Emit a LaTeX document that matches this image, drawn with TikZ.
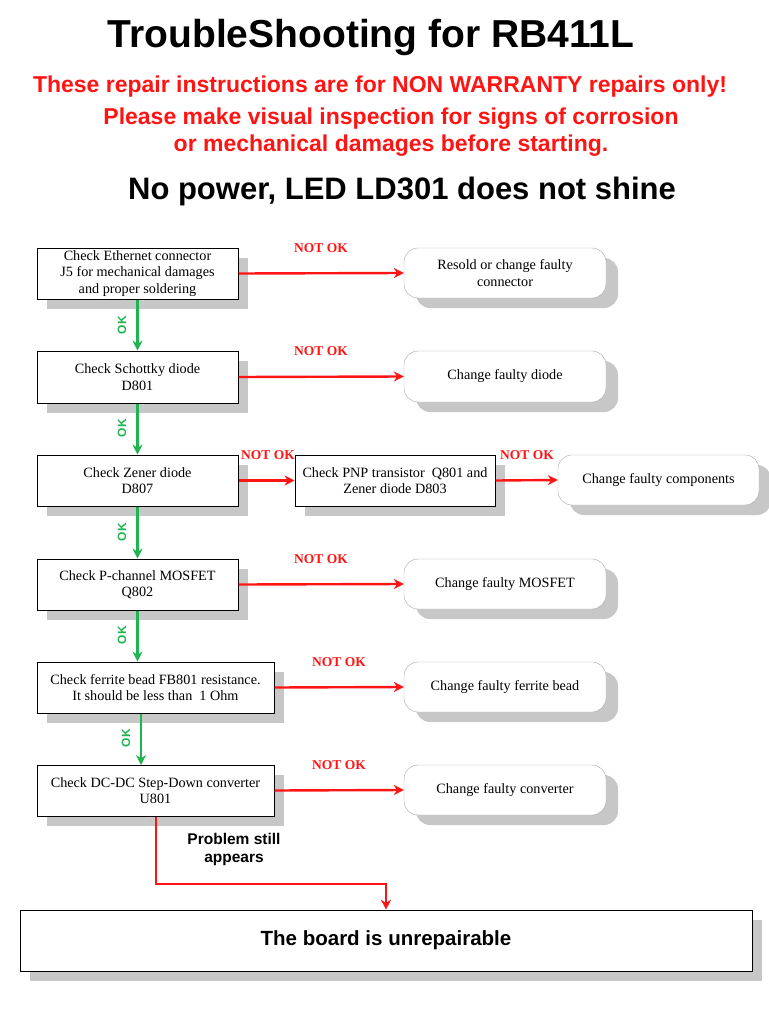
\documentclass[tikz,border=0pt]{standalone}
\usepackage{fontspec}
\setmainfont{Liberation Serif}
\newfontfamily\hsans{Liberation Sans}
\usetikzlibrary{arrows.meta}
\definecolor{rred}{RGB}{255,20,20}
\definecolor{ggreen}{RGB}{30,180,80}
\begin{document}
\begin{tikzpicture}[x=1pt,y=-1pt,
 box/.style={draw,line width=1pt,fill=white,align=center,font=\fontsize{14.2}{16.5}\selectfont,inner sep=1pt},
 rbox/.style={draw=gray!70,fill=white,rounded corners=14pt,align=center,font=\fontsize{14.2}{16.5}\selectfont},
 shad/.style={fill=black!22},
 no/.style={rred,line width=2.4pt,-{Stealth[length=10pt,width=10pt]}},
 ok/.style={ggreen,line width=2.4pt,-{Stealth[length=10pt,width=10pt]}},
 nol/.style={text=rred,font=\fontsize{13.5}{15}\bfseries\selectfont},
 okl/.style={text=ggreen,font=\hsans\fontsize{12}{13}\bfseries\selectfont,rotate=90}]
\useasboundingbox (0,0) rectangle (768,1024);
\node[font=\hsans\fontsize{39}{44}\bfseries\selectfont] (t) at (371,38) {TroubleShooting for RB411L};
\node[font=\hsans\fontsize{23}{27}\bfseries\selectfont,text=rred,align=center] (w) at (380,87) {These repair instructions are for NON WARRANTY repairs only!};
\node[font=\hsans\fontsize{23}{27}\bfseries\selectfont,text=rred,align=center] (w2) at (391,132) {Please make visual inspection for signs of corrosion\\or mechanical damages before starting.};
\node[font=\hsans\fontsize{31}{35}\bfseries\selectfont] (s) at (402,191) {No power, LED LD301 does not shine};
% shadows
\foreach \l/\t/\r/\b in {37/248/238/299,37/351/238/403,37/455/238/506,295/455/495/506,37/559/238/610,37/662/274/713,37/765/274/816,20/910/752/971}
  \fill[shad] (\l+10,\t+10) rectangle (\r+10,\b+10);
\foreach \l/\t/\r/\b in {404/248/606/298,404/351/606/402,558/455/759/505,404/559/606/609,404/662/606/712,404/765/606/815}
  \fill[shad,rounded corners=14pt] (\l+12,\t+10) rectangle (\r+12,\b+10);
% boxes
\node[box,minimum width=201pt,minimum height=51pt] (b1) at (137.5,273.5) {Check Ethernet connector\\J5 for mechanical damages\\and proper soldering};
\node[box,minimum width=201pt,minimum height=52pt] (b2) at (137.5,377) {Check Schottky diode\\D801};
\node[box,minimum width=201pt,minimum height=51pt] (b3) at (137.5,480.5) {Check Zener diode\\D807};
\node[box,minimum width=200pt,minimum height=51pt] (b3b) at (395,480.5) {Check PNP transistor~ Q801 and\\Zener diode D803};
\node[box,minimum width=201pt,minimum height=51pt] (b4) at (137.5,584.5) {Check P-channel MOSFET\\Q802};
\node[box,minimum width=237pt,minimum height=51pt] (b5) at (155.5,687.5) {Check ferrite bead FB801 resistance.\\It should be less than~ 1 Ohm};
\node[box,minimum width=237pt,minimum height=51pt] (b6) at (155.5,790.5) {Check DC-DC Step-Down converter\\U801};
\node[box,line width=0.6pt,minimum width=732pt,minimum height=61pt,font=\hsans\fontsize{20.5}{24}\bfseries\selectfont] (fin) at (386,940.5) {The board is unrepairable};
\node[rbox,minimum width=202pt,minimum height=50pt] (r1) at (505,273) {Resold or change faulty\\connector};
\node[rbox,minimum width=202pt,minimum height=51pt] (r2) at (505,376.5) {Change faulty diode};
\node[rbox,minimum width=201pt,minimum height=50pt] (r3) at (658.5,480) {Change faulty components};
\node[rbox,minimum width=202pt,minimum height=50pt] (r4) at (505,584) {Change faulty MOSFET};
\node[rbox,minimum width=202pt,minimum height=50pt] (r5) at (505,687) {Change faulty ferrite bead};
\node[rbox,minimum width=202pt,minimum height=50pt] (r6) at (505,790) {Change faulty converter};
% red arrows
\draw[no] (b1.east) -- (r1.west);
\draw[no] (b2.east) -- (r2.west);
\draw[no] (b3.east) -- (b3b.west);
\draw[no] (b3b.east) -- (r3.west);
\draw[no] (b4.east) -- (r4.west);
\draw[no] (b5.east) -- (r5.west);
\draw[no] (b6.east) -- (r6.west);
\node[nol] (n1) at (321,248) {NOT OK};
\node[nol] (n2) at (321,351) {NOT OK};
\node[nol] (n3) at (268,455) {NOT OK};
\node[nol] (n4) at (527,455) {NOT OK};
\node[nol] (n5) at (321,559) {NOT OK};
\node[nol] (n6) at (339,662) {NOT OK};
\node[nol] (n7) at (339,765) {NOT OK};
% green
\draw[ok] (b1.south) -- (b2.north);
\draw[ok] (b2.south) -- (b3.north);
\draw[ok] (b3.south) -- (b4.north);
\draw[ok] (b4.south) -- (b4.south |- b5.north);
\draw[ok] (b5.south -| 141,0) -- (141,765);
\node[okl] (o1) at (122,325) {OK};
\node[okl] (o2) at (122,428) {OK};
\node[okl] (o3) at (122,532) {OK};
\node[okl] (o4) at (122,635) {OK};
\node[okl] (o5) at (126,738) {OK};
% final
\coordinate (c1) at (156,884);
\coordinate (c2) at (386,884);
\draw[rred,line width=1.6pt,-{Stealth[length=10pt,width=10pt]}] (b6.south -| c1) -- (c1) -- (c2) -- (fin.north);
\node[font=\hsans\fontsize{15.5}{18}\bfseries\selectfont,align=center] (p) at (234,849) {Problem still\\appears};
\end{tikzpicture}
\end{document}
